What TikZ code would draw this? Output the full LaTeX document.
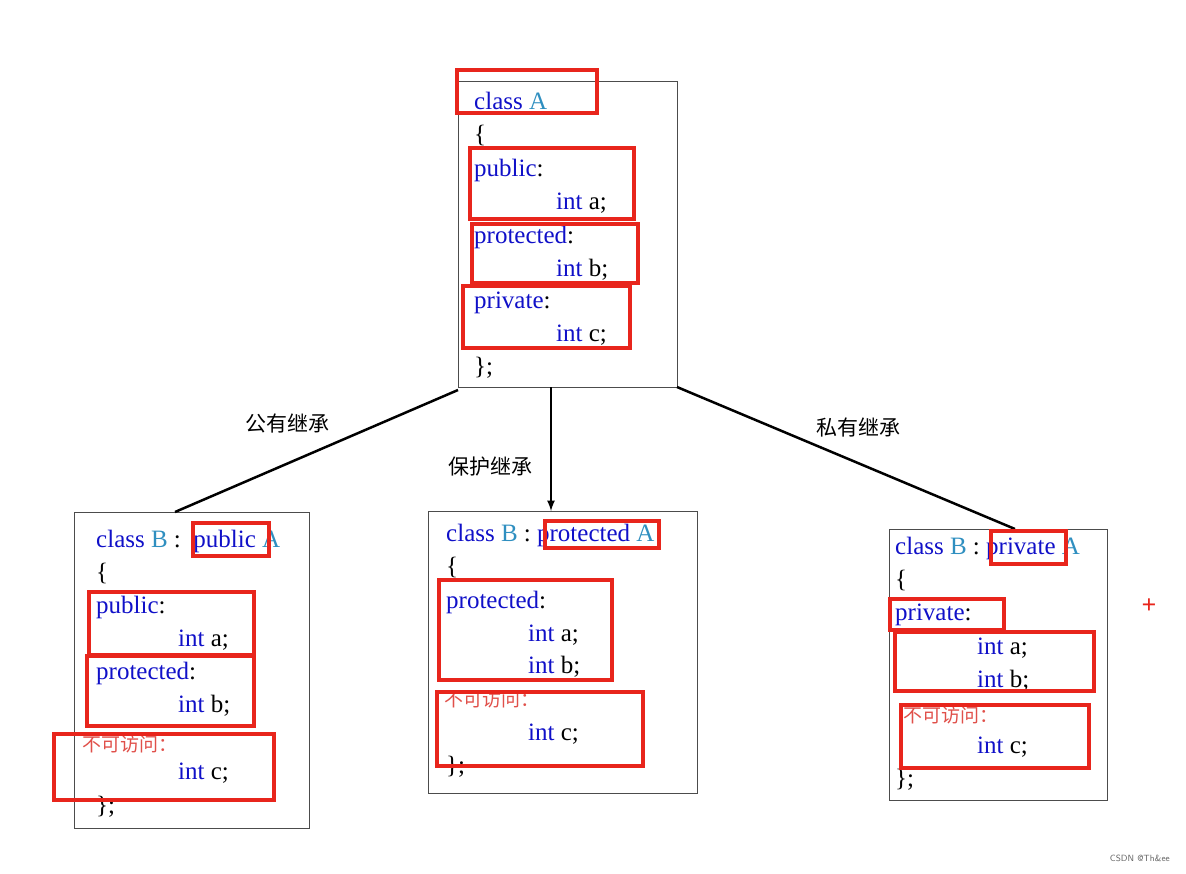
\documentclass[tikz,border=0pt]{standalone}
\usepackage{fontspec}
\setmainfont{Liberation Serif}
\newfontfamily\cjk{Noto Sans CJK SC}
\definecolor{kw}{HTML}{1010C8}
\definecolor{cn}{HTML}{2F8FC0}
\definecolor{rb}{HTML}{E8251C}
\definecolor{nr}{HTML}{E0504A}
\tikzset{
 t/.style={anchor=base west,inner sep=0pt,font=\fontsize{25}{28}\selectfont,text=kw},
 na/.style={t,text=nr,font=\cjk\fontsize{19}{22}\selectfont},
 box/.style={draw=black!70,line width=1pt},
 rbox/.style={draw=rb,line width=3.5pt},
 lab/.style={font=\cjk\fontsize{21}{24}\selectfont,inner sep=0pt},
 edge/.style={line width=2.5pt,black}
}
\begin{document}
\begin{tikzpicture}[x=1pt,y=-1pt]
\useasboundingbox (0,0) rectangle (1186,873);
% boxes
\node[box,minimum width=219pt,minimum height=306pt,inner sep=0pt] (A) at (567.5,234) {};
\node[box,minimum width=235pt,minimum height=316pt,inner sep=0pt] (L) at (191.5,670) {};
\node[box,minimum width=269pt,minimum height=282pt,inner sep=0pt] (M) at (562.5,652) {};
\node[box,minimum width=218pt,minimum height=271pt,inner sep=0pt] (R) at (998,664.5) {};
\coordinate (Ls) at (458,390); \coordinate (Le) at (175,512);
\coordinate (Rs) at (677,387); \coordinate (Re) at (1015,529);
\coordinate (Ms) at (551,387); \coordinate (Me) at (551,511);
\draw[edge] (Ls) -- (Le);
\draw[edge,-latex] (Ms) -- (Me);
\draw[edge] (Rs) -- (Re);
\node[lab] (l1) at (287,423) {公有继承};
\node[lab] (l2) at (490,467) {保护继承};
\node[lab] (l3) at (858,427) {私有继承};
% class A
\node[t] (a1) at (474,109) {class \textcolor{cn}{A}};
\node[t,text=black] (a2) at (474,142) {\{};
\node[t] (a3) at (474,176) {public\textcolor{black}{:}};
\node[t] (a4) at (556,209) {int \textcolor{black}{a;}};
\node[t] (a5) at (474,243) {protected\textcolor{black}{:}};
\node[t] (a6) at (556,276) {int \textcolor{black}{b;}};
\node[t] (a7) at (474,308) {private\textcolor{black}{:}};
\node[t] (a8) at (556,341) {int \textcolor{black}{c;}};
\node[t,text=black] (a9) at (474,374) {\};};
\draw[rbox] (457,70) rectangle (597,113);
\draw[rbox] (470,148) rectangle (634,219);
\draw[rbox] (472,224) rectangle (638,283);
\draw[rbox] (463,286) rectangle (630,348);
% left
\node[t] (b1) at (96,547) {class \textcolor{cn}{B} \textcolor{black}{:}\ \ public \textcolor{cn}{A}};
\node[t,text=black] (b2) at (96,580) {\{};
\node[t] (b3) at (96,613) {public\textcolor{black}{:}};
\node[t] (b4) at (178,646) {int \textcolor{black}{a;}};
\node[t] (b5) at (96,679) {protected\textcolor{black}{:}};
\node[t] (b6) at (178,712) {int \textcolor{black}{b;}};
\node[na] (b7) at (82,751) {不可访问：};
\node[t] (b8) at (178,779) {int \textcolor{black}{c;}};
\node[t,text=black] (b9) at (96,813) {\};};
\draw[rbox] (193,523) rectangle (269,556);
\draw[rbox] (89,592) rectangle (254,655);
\draw[rbox] (87,656) rectangle (254,726);
\draw[rbox] (54,734) rectangle (274,800);
% middle
\node[t] (c1) at (446,541) {class \textcolor{cn}{B} \textcolor{black}{:} protected \textcolor{cn}{A}};
\node[t,text=black] (c2) at (446,574) {\{};
\node[t] (c3) at (446,608) {protected\textcolor{black}{:}};
\node[t] (c4) at (528,641) {int \textcolor{black}{a;}};
\node[t] (c5) at (528,673) {int \textcolor{black}{b;}};
\node[na] (c6) at (444,706) {不可访问：};
\node[t] (c7) at (528,740) {int \textcolor{black}{c;}};
\node[t,text=black] (c8) at (446,773) {\};};
\draw[rbox] (545,521) rectangle (659,548);
\draw[rbox] (439,580) rectangle (612,680);
\draw[rbox] (437,692) rectangle (643,766);
% right
\node[t] (d1) at (895,554) {class \textcolor{cn}{B} \textcolor{black}{:} private \textcolor{cn}{A}};
\node[t,text=black] (d2) at (895,587) {\{};
\node[t] (d3) at (895,620) {private\textcolor{black}{:}};
\node[t] (d4) at (977,654) {int \textcolor{black}{a;}};
\node[t] (d5) at (977,687) {int \textcolor{black}{b;}};
\node[na] (d6) at (903,722) {不可访问：};
\node[t] (d7) at (977,753) {int \textcolor{black}{c;}};
\node[t,text=black] (d8) at (895,786) {\};};
\draw[rbox] (991,531) rectangle (1066,564);
\draw[rbox] (890,599) rectangle (1004,630);
\draw[rbox] (895,632) rectangle (1094,691);
\draw[rbox] (901,705) rectangle (1089,768);
\node[text=rb,font=\bfseries\fontsize{26}{28}\selectfont,inner sep=0pt] (plus) at (1149,606) {+};
\node[anchor=east,inner sep=0pt,text=black!60,font=\fontsize{9}{10}\selectfont\sffamily] (wm) at (1170,858) {CSDN @Th\&ee};
\end{tikzpicture}
\end{document}
